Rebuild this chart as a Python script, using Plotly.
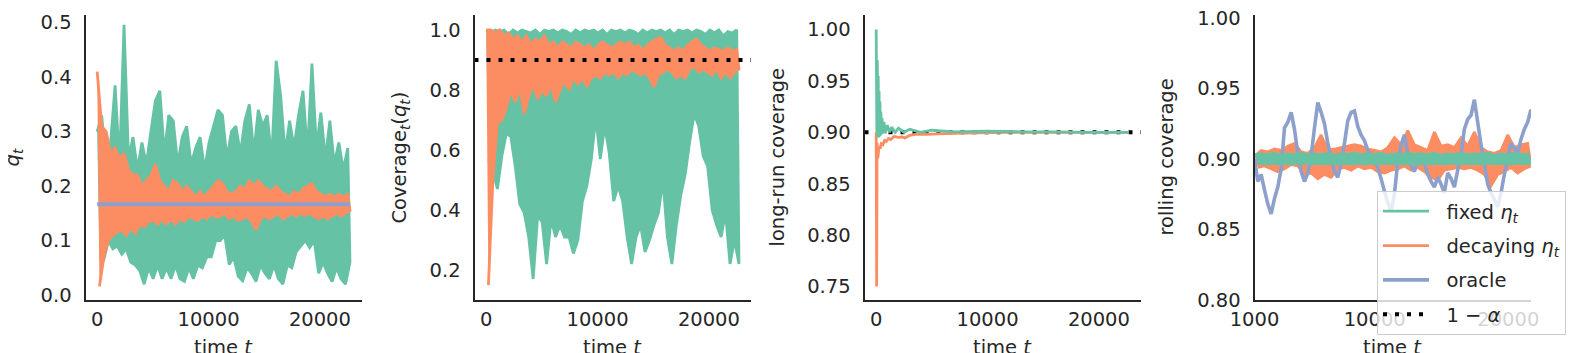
import numpy as np
import plotly.graph_objects as go

# ---------------- data ----------------
GREEN, ORANGE, BLUE = "#66c2a5", "#fc8d62", "#8da0cb"
TARGET = 0.9            # 1 - alpha
T_END = 22700
# dense noisy series are recorded as local highs and local lows along time
t_hi = np.linspace(0, 22500, 57)
t_lo = np.linspace(201, T_END, 57)

# panel 1: quantile q_t
fixed_q_hi = [0.30, 0.33, 0.24, 0.28, 0.385, 0.24, 0.496, 0.25, 0.29, 0.23,
              0.28, 0.24, 0.30, 0.357, 0.375, 0.26, 0.33, 0.32, 0.24, 0.29,
              0.31, 0.24, 0.27, 0.29, 0.23, 0.28, 0.31, 0.34, 0.33, 0.25,
              0.30, 0.31, 0.26, 0.32, 0.35, 0.26, 0.34, 0.31, 0.33, 0.25,
              0.43, 0.366, 0.26, 0.32, 0.27, 0.33, 0.375, 0.26, 0.425, 0.27,
              0.335, 0.25, 0.32, 0.24, 0.28, 0.23, 0.27]
fixed_q_lo = [0.07, 0.065, 0.10, 0.085, 0.09, 0.075, 0.085, 0.06, 0.055, 0.045,
              0.02, 0.05, 0.03, 0.055, 0.03, 0.05, 0.03, 0.055, 0.03, 0.025,
              0.05, 0.03, 0.055, 0.05, 0.07, 0.07, 0.10, 0.10, 0.11, 0.056,
              0.07, 0.035, 0.026, 0.05, 0.04, 0.025, 0.055, 0.04, 0.03, 0.055,
              0.03, 0.02, 0.055, 0.05, 0.08, 0.09, 0.10, 0.087, 0.10, 0.04,
              0.06, 0.04, 0.025, 0.05, 0.03, 0.02, 0.06]
decay_q_hi = [0.41, 0.31, 0.30, 0.26, 0.27, 0.25, 0.26, 0.23, 0.22, 0.22,
              0.20, 0.21, 0.22, 0.24, 0.21, 0.20, 0.19, 0.21, 0.205, 0.19,
              0.20, 0.19, 0.18, 0.19, 0.18, 0.19, 0.20, 0.21, 0.205, 0.19,
              0.185, 0.19, 0.20, 0.195, 0.21, 0.20, 0.21, 0.20, 0.195, 0.19,
              0.20, 0.19, 0.185, 0.18, 0.19, 0.185, 0.195, 0.20, 0.205, 0.19,
              0.185, 0.18, 0.185, 0.18, 0.185, 0.18, 0.185]
decay_q_lo = [0.016, 0.07, 0.10, 0.11, 0.115, 0.12, 0.11, 0.125, 0.112, 0.13,
              0.125, 0.135, 0.137, 0.13, 0.14, 0.13, 0.14, 0.13, 0.14, 0.135,
              0.145, 0.14, 0.137, 0.145, 0.14, 0.15, 0.143, 0.145, 0.15, 0.14,
              0.145, 0.137, 0.14, 0.145, 0.135, 0.12, 0.14, 0.145, 0.14, 0.145,
              0.15, 0.14, 0.145, 0.15, 0.145, 0.15, 0.146, 0.15, 0.145, 0.14,
              0.145, 0.14, 0.145, 0.15, 0.145, 0.15, 0.155]
oracle_q = [0.1667, 0.1667]
t_oracle_q = [0, T_END]

# panel 2: Coverage_t(q_t)
fixed_cov_hi = [1.0, 0.99, 1.0, 0.995, 1.0, 0.985, 1.0, 0.99, 1.0, 0.995,
                0.99, 1.0, 0.985, 1.0, 0.995, 1.0, 0.99, 1.0, 0.995, 0.985,
                1.0, 0.99, 1.0, 0.995, 1.0, 0.99, 1.0, 0.985, 1.0, 0.995,
                1.0, 0.99, 1.0, 0.995, 0.985, 1.0, 0.99, 1.0, 0.995, 1.0,
                0.99, 1.0, 0.985, 1.0, 0.995, 1.0, 0.99, 1.0, 0.995, 0.985,
                1.0, 0.99, 1.0, 0.98, 0.995, 0.99, 1.0]
fixed_cov_lo = [0.57, 0.53, 0.47, 0.58, 0.655, 0.645, 0.545, 0.42, 0.39, 0.31,
                0.17, 0.38, 0.36, 0.22, 0.37, 0.31, 0.35, 0.31, 0.31, 0.255,
                0.30, 0.43, 0.48, 0.57, 0.71, 0.57, 0.68, 0.59, 0.43, 0.48,
                0.43, 0.31, 0.22, 0.31, 0.35, 0.26, 0.30, 0.35, 0.39, 0.50,
                0.31, 0.22, 0.35, 0.45, 0.52, 0.63, 0.72, 0.68, 0.58, 0.545,
                0.40, 0.35, 0.31, 0.39, 0.22, 0.30, 0.22]
decay_cov_hi = [1.0, 1.0, 0.99, 1.0, 0.98, 0.99, 0.97, 0.98, 0.96, 0.98,
                0.95, 0.97, 0.96, 0.98, 0.95, 0.96, 0.94, 0.96, 0.95, 0.94,
                0.96, 0.95, 0.94, 0.95, 0.93, 0.95, 0.96, 0.95, 0.94, 0.95,
                0.96, 0.95, 0.96, 0.94, 0.95, 0.93, 0.95, 0.96, 0.97, 0.975,
                0.95, 0.94, 0.93, 0.94, 0.93, 0.95, 0.96, 0.97, 0.95, 0.94,
                0.93, 0.94, 0.935, 0.93, 0.94, 0.93, 0.935]
decay_cov_lo = [0.15, 0.50, 0.69, 0.70, 0.74, 0.80, 0.76, 0.81, 0.72, 0.78,
                0.82, 0.77, 0.80, 0.78, 0.82, 0.76, 0.80, 0.83, 0.80, 0.84,
                0.82, 0.84, 0.81, 0.84, 0.85, 0.84, 0.86, 0.85, 0.86, 0.84,
                0.86, 0.85, 0.87, 0.86, 0.85, 0.86, 0.84, 0.81, 0.85, 0.86,
                0.87, 0.86, 0.84, 0.85, 0.84, 0.87, 0.88, 0.86, 0.87, 0.86,
                0.85, 0.87, 0.84, 0.86, 0.84, 0.86, 0.87]

# panel 3: long-run coverage
t_lr_fixed = [0, 60, 100, 140, 180, 220, 260, 300, 340, 380, 420, 470, 520, 600, 700,
              800, 1000, 1200, 1400, 1700, 2000, 2500, 3000, 4000, 5000, 7000, 10000,
              13000, 16000, 19000, 22700]
fixed_lr = [1.0, 0.90, 0.97, 0.895, 0.955, 0.895, 0.94, 0.896, 0.93, 0.897, 0.92, 0.898,
            0.914, 0.899, 0.91, 0.899, 0.907, 0.90, 0.905, 0.90, 0.904, 0.90, 0.903,
            0.90, 0.902, 0.9005, 0.901, 0.9005, 0.9005, 0.90, 0.90]
t_lr_decay = [0, 40, 80, 150, 250, 350, 450, 600, 750, 900, 1100, 1300, 1600, 2000, 2300,
              2600, 3000, 3500, 4500, 5500, 7000, 9000, 12000, 15000, 18000, 22700]
decay_lr = [0.90, 0.75, 0.89, 0.875, 0.886, 0.884, 0.889, 0.888, 0.892, 0.891, 0.894,
            0.893, 0.896, 0.895, 0.8955, 0.8945, 0.897, 0.898, 0.898, 0.8985, 0.899,
            0.8995, 0.90, 0.90, 0.90, 0.90]

# panel 4: rolling coverage
t_roll = np.linspace(1000, 21700, 84)
t_roll_hi = np.linspace(1000, 21452, 42)
t_roll_lo = np.linspace(1249, 21700, 42)
fixed_roll_hi = [0.903, 0.9035, 0.903, 0.904, 0.9025, 0.9035, 0.903, 0.904, 0.903, 0.9035,
                 0.903, 0.904, 0.9025, 0.9035, 0.903, 0.904, 0.903, 0.9035, 0.903, 0.904,
                 0.9025, 0.9035, 0.903, 0.904, 0.903, 0.9035, 0.903, 0.904, 0.9025, 0.9035,
                 0.903, 0.904, 0.903, 0.9035, 0.903, 0.904, 0.9025, 0.9035, 0.903, 0.904,
                 0.903, 0.9035]
fixed_roll_lo = [0.897, 0.8965, 0.897, 0.8965, 0.897, 0.8965, 0.897, 0.897, 0.8965, 0.897,
                 0.8965, 0.897, 0.8965, 0.897, 0.8965, 0.897, 0.8965, 0.897, 0.8965, 0.897,
                 0.8965, 0.897, 0.8965, 0.897, 0.8965, 0.897, 0.8965, 0.897, 0.8965, 0.897,
                 0.8965, 0.897, 0.8965, 0.897, 0.8965, 0.897, 0.8965, 0.897, 0.8965, 0.897,
                 0.8965, 0.897]
decay_roll_hi = [0.902, 0.906, 0.905, 0.907, 0.906, 0.909, 0.911, 0.905, 0.904, 0.908,
                 0.917, 0.906, 0.907, 0.908, 0.909, 0.910, 0.909, 0.907, 0.906, 0.905,
                 0.908, 0.915, 0.910, 0.920, 0.910, 0.908, 0.906, 0.919, 0.909, 0.910,
                 0.908, 0.915, 0.909, 0.919, 0.908, 0.905, 0.904, 0.906, 0.917, 0.908,
                 0.910, 0.911]
decay_roll_lo = [0.894, 0.895, 0.893, 0.891, 0.893, 0.896, 0.895, 0.889, 0.890, 0.886,
                 0.889, 0.887, 0.893, 0.894, 0.892, 0.895, 0.893, 0.894, 0.891, 0.890,
                 0.892, 0.893, 0.895, 0.892, 0.894, 0.891, 0.887, 0.885, 0.892, 0.893,
                 0.894, 0.893, 0.894, 0.892, 0.889, 0.881, 0.889, 0.891, 0.894, 0.890,
                 0.893, 0.895]
oracle_roll = [0.900, 0.884, 0.889, 0.878, 0.868, 0.861, 0.872, 0.880, 0.893, 0.922,
               0.926, 0.933, 0.921, 0.904, 0.891, 0.884, 0.890, 0.902, 0.922, 0.940,
               0.933, 0.925, 0.911, 0.902, 0.891, 0.887, 0.897, 0.911, 0.927, 0.933,
               0.934, 0.923, 0.917, 0.913, 0.906, 0.903, 0.899, 0.894, 0.886, 0.877,
               0.869, 0.863, 0.875, 0.898, 0.910, 0.917, 0.904, 0.895, 0.891, 0.899,
               0.904, 0.897, 0.889, 0.884, 0.880, 0.887, 0.882, 0.876, 0.890, 0.886,
               0.880, 0.892, 0.903, 0.921, 0.928, 0.931, 0.942, 0.926, 0.910, 0.896,
               0.882, 0.876, 0.871, 0.866, 0.876, 0.889, 0.901, 0.911, 0.908, 0.904,
               0.914, 0.921, 0.926, 0.935]

PAD = "\u00a0\u00a0"
labels = {"fixed": PAD + "fixed <i>η</i><sub><i>t</i></sub>",
          "decay": PAD + "decaying <i>η</i><sub><i>t</i></sub>",
          "oracle": PAD + "oracle",
          "target": PAD + "1 − <i>α</i>"}

# ---------------- layout helpers ----------------
W, H = 1574, 353
FONT = "DejaVu Sans, Liberation Sans, Arial, sans-serif"
FS = 19.5
INK = "#262626"
LW = 2.8
lefts = [77.5, 466.5, 856.5, 1246.5]
pw = 276.5
ytop, ybot = 7, 292


def fx(p):
    return p / W


def fy(p):
    return 1 - p / H


X_MAIN = [-1050, 23780]
X_ROLL = [1000, 21700]
yranges = [[-0.009, 0.514], [0.1, 1.05], [0.737, 1.014], [0.8, 1.002]]
yticks = [[0, 0.1, 0.2, 0.3, 0.4, 0.5], [0.2, 0.4, 0.6, 0.8, 1.0],
          [0.75, 0.8, 0.85, 0.9, 0.95, 1.0], [0.8, 0.85, 0.9, 0.95, 1.0]]
yfmt = [".1f", ".1f", ".2f", ".2f"]
xticks = [[0, 10000, 20000]] * 3 + [[1000, 10000, 20000]]

fig = go.Figure()


def line(x, y, color, ax, width=LW, name=None, show=False, dash=None, rank=None, group=None):
    fig.add_trace(go.Scatter(
        x=x, y=y, mode="lines", xaxis="x" + ax, yaxis="y" + ax,
        line=dict(color=color, width=width, dash=dash, simplify=False),
        name=name, showlegend=show, legendrank=rank, legendgroup=group,
        hoverinfo="skip"))


def band(th, hi, tl, lo, color, ax, width=LW):
    """Dense noisy series drawn as the filled region between its local highs and lows."""
    fig.add_trace(go.Scatter(
        x=list(th) + list(tl)[::-1], y=list(hi) + list(lo)[::-1], mode="lines",
        fill="toself", fillcolor=color, xaxis="x" + ax, yaxis="y" + ax,
        line=dict(color=color, width=width, simplify=False),
        showlegend=False, hoverinfo="skip"))


# panel 1
band(t_hi, fixed_q_hi, t_lo, fixed_q_lo, GREEN, "")
band(t_hi, decay_q_hi, t_lo, decay_q_lo, ORANGE, "")
line(t_oracle_q, oracle_q, BLUE, "", width=4)
# panel 2
band(t_hi, fixed_cov_hi, t_lo, fixed_cov_lo, GREEN, "2")
band(t_hi, decay_cov_hi, t_lo, decay_cov_lo, ORANGE, "2")
line(X_MAIN, [TARGET, TARGET], "black", "2", width=4, dash="4px,8px",
     name=labels["target"], show=True, rank=4, group="d")
# panel 3
line(X_MAIN, [TARGET, TARGET], "black", "3", width=4, dash="4px,8px")
line(t_lr_decay, decay_lr, ORANGE, "3", name=labels["decay"], show=True, rank=2, group="b")
line(t_lr_fixed, fixed_lr, GREEN, "3", name=labels["fixed"], show=True, rank=1, group="a")
# panel 4
band(t_roll_hi, decay_roll_hi, t_roll_lo, decay_roll_lo, ORANGE, "4")
line(t_roll, oracle_roll, BLUE, "4", width=3.6, name=labels["oracle"], show=True, rank=3, group="c")
band(t_roll_hi, fixed_roll_hi, t_roll_lo, fixed_roll_lo, GREEN, "4")

layout = dict(
    width=W, height=H, margin=dict(l=0, r=0, t=0, b=0, autoexpand=False),
    paper_bgcolor="white", plot_bgcolor="white",
    font=dict(family=FONT, size=FS, color=INK),
    legend=dict(x=fx(1369), y=fy(183), xanchor="left", yanchor="top",
                bgcolor="rgba(255,255,255,0.8)", bordercolor="#cccccc", borderwidth=1,
                font=dict(family=FONT, size=FS, color=INK), itemwidth=46,
                traceorder="grouped", tracegroupgap=6),
)
annotations = []
ytitles = ["<i>q</i><sub><i>t</i></sub>",
           "Coverage<sub><i>t</i></sub>(<i>q</i><sub><i>t</i></sub>)",
           "long-run coverage", "rolling coverage"]
ytitle_x = [5, 392, 769, 1158]
for i in range(4):
    s = "" if i == 0 else str(i + 1)
    layout["xaxis" + s] = dict(
        domain=[fx(lefts[i]), fx(lefts[i] + pw)], anchor="y" + s,
        range=X_ROLL if i == 3 else X_MAIN, automargin=False,
        tickvals=xticks[i], ticktext=[str(v) for v in xticks[i]],
        showline=True, linecolor=INK, linewidth=2, showgrid=False, zeroline=False,
        ticks="", ticklabelstandoff=1, ticklabeloverflow="allow",
        tickfont=dict(size=FS, color=INK))
    layout["yaxis" + s] = dict(
        domain=[fy(ybot), fy(ytop)], anchor="x" + s, range=yranges[i], automargin=False,
        tickvals=yticks[i], tickformat=yfmt[i],
        showline=True, linecolor=INK, linewidth=2, showgrid=False, zeroline=False,
        ticks="", ticklabelstandoff=8, ticklabeloverflow="allow",
        tickfont=dict(size=FS, color=INK))
    annotations.append(dict(text="time <i>t</i>", xref="paper", yref="paper",
                            x=fx(lefts[i] + pw / 2), y=fy(339), xanchor="center",
                            yanchor="middle", showarrow=False, font=dict(size=FS, color=INK)))
    annotations.append(dict(text=ytitles[i], xref="paper", yref="paper", textangle=-90,
                            x=fx(ytitle_x[i]), y=fy((ytop + ybot) / 2), xanchor="center",
                            yanchor="middle", showarrow=False, font=dict(size=FS, color=INK)))
layout["annotations"] = annotations
fig.update_layout(**layout)
fig.write_html("out.html")
